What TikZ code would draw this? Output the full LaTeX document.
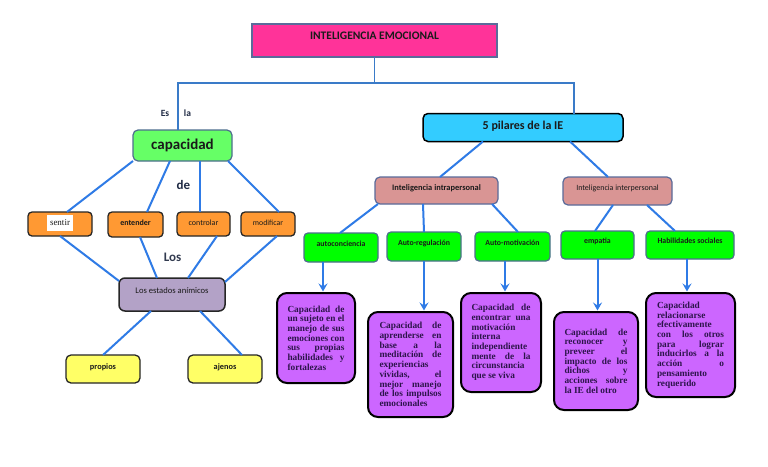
\documentclass[tikz,border=0pt]{standalone}
\usepackage{fontspec}
\setmainfont{Carlito}
\newfontfamily\serifbox{Liberation Serif}
\newfontfamily\timesfont{Liberation Serif}
\usetikzlibrary{arrows.meta}
\definecolor{busblue}{HTML}{3A7BC8}
\definecolor{linkblue}{HTML}{2F7BE6}
\definecolor{titlepink}{HTML}{FF3399}
\definecolor{titleborder}{HTML}{5A6B9A}
\definecolor{capgreen}{HTML}{66FF66}
\definecolor{grayblue}{HTML}{4E6E8E}
\definecolor{boxorange}{HTML}{FF9933}
\definecolor{darkline}{HTML}{262626}
\definecolor{lilac}{HTML}{B3A2C7}
\definecolor{boxyellow}{HTML}{FFFF66}
\definecolor{boxcyan}{HTML}{33CCFF}
\definecolor{rosebrown}{HTML}{D99594}
\definecolor{puregreen}{HTML}{00FF00}
\definecolor{violet}{HTML}{CC66FF}
\definecolor{violettext}{HTML}{2D144B}
\definecolor{labeltext}{HTML}{1F2A44}
\definecolor{textdark}{HTML}{1A1A1A}
\newcommand\J[1]{\makebox[\linewidth][s]{#1}}
\tikzset{
  box/.style={draw, inner sep=0pt, outer sep=0pt, text=textdark},
  bus/.style={draw=busblue, line width=1.3pt},
  link/.style={draw=linkblue, line width=2pt},
  arrowlink/.style={draw=linkblue, line width=2pt, -{Stealth[length=8pt,width=9pt,inset=3pt]}, shorten >=1.5pt},
  orangebox/.style={box, draw=darkline, line width=1.3pt, fill=boxorange, rounded corners=4pt, text height=6pt, text depth=4pt},
  greenbox/.style={box, draw=grayblue, line width=1.2pt, fill=puregreen, rounded corners=4pt, font=\bfseries\fontsize{7.8}{9}\selectfont, text height=6pt, text depth=8.5pt},
  purplebox/.style={box, draw=black, line width=2pt, fill=violet, rounded corners=10pt, text=violettext, font=\serifbox\bfseries\fontsize{9.3}{9.7}\selectfont},
  yellowbox/.style={box, draw=darkline, line width=1.3pt, fill=boxyellow, rounded corners=5pt, font=\bfseries\fontsize{8.3}{9}\selectfont, text height=6pt, text depth=6pt},
  wordlabel/.style={text=labeltext, font=\bfseries, inner sep=0pt}
}
\begin{document}
\begin{tikzpicture}[x=1pt,y=-1pt]
\fill[white] (0,0) rectangle (768,466);
\useasboundingbox (0,0) rectangle (768,466);

% main nodes
\node[box, draw=titleborder, line width=1.2pt, fill=titlepink, minimum width=245pt, minimum height=33pt,
      font=\bfseries\fontsize{11.5}{13}\selectfont, text height=7.4pt, text depth=9pt] (title) at (374.5,40.5) {INTELIGENCIA EMOCIONAL};
\coordinate (j) at (374.5,83);

\node[box, draw=grayblue, line width=1.2pt, fill=capgreen, rounded corners=5pt, minimum width=99pt, minimum height=31pt,
      font=\bfseries\fontsize{15}{17}\selectfont] (cap) at (182.5,145.5) {capacidad};

\node[box, draw=black, line width=1.5pt, fill=boxcyan, rounded corners=5pt, minimum width=200pt, minimum height=28pt,
      font=\bfseries\fontsize{12}{14}\selectfont, text height=8pt, text depth=5pt] (pil) at (523,127.5) {5 pilares de la IE};

% connectors top
\draw[bus] (title.south) -- (j);
\draw[bus] ([xshift=-4.5pt]cap.north) |- (j) -| ([xshift=51pt]pil.north);

% word labels
\node[wordlabel, font=\bfseries\fontsize{9.5}{11}\selectfont] (es) at (165,113) {Es};
\node[wordlabel, font=\bfseries\fontsize{9.5}{11}\selectfont] (la) at (187.5,113) {la};
\node[wordlabel, font=\bfseries\fontsize{13}{15}\selectfont] (de) at (183.5,185) {de};
\node[wordlabel, text=labeltext!80!gray, font=\bfseries\fontsize{13}{15}\selectfont] (los) at (172.5,257) {Los};

% orange boxes
\node[orangebox, minimum width=64pt, minimum height=24pt] (sen) at (60,224)
  {\colorbox{white}{\timesfont\fontsize{9}{10}\selectfont\strut sentir}};
\node[orangebox, minimum width=55pt, minimum height=25pt, font=\bfseries\fontsize{8}{9}\selectfont] (ent) at (135.5,224.5) {entender};
\node[orangebox, minimum width=53pt, minimum height=24pt, font=\fontsize{8}{9}\selectfont] (con) at (203.5,224) {controlar};
\node[orangebox, minimum width=54pt, minimum height=24pt, font=\fontsize{7.8}{9}\selectfont] (mod) at (268,224) {modificar};

\node[box, draw=darkline, line width=1.5pt, fill=lilac, rounded corners=6pt, minimum width=106pt, minimum height=33pt,
      font=\fontsize{8.6}{10}\selectfont, text height=6pt, text depth=9pt] (est) at (172,294.5) {Los estados anímicos};

\node[yellowbox, minimum width=74pt, minimum height=28pt] (pro) at (103,369) {propios};
\node[yellowbox, minimum width=74pt, minimum height=28pt] (aje) at (225,369) {ajenos};

% capacidad connectors
\draw[link] (cap.south west) -- ([xshift=7pt]sen.north);
\draw[link] ([xshift=-12.5pt]cap.south) -- ([xshift=11.5pt]ent.north);
\draw[link] ([xshift=17.5pt]cap.south) -- ([xshift=-3.5pt]con.north);
\draw[link] ([xshift=-4pt]cap.south east) -- ([xshift=11pt]mod.north);
\draw[link] (sen.south) -- ([yshift=-3pt]est.north west);
\draw[link] ([xshift=4.5pt]ent.south) -- ([xshift=-15pt]est.north);
\draw[link] ([xshift=13.5pt]con.south) -- ([xshift=16pt]est.north);
\draw[link] ([xshift=9pt]mod.south) -- ([yshift=-4pt]est.north east);
\draw[link] ([xshift=-21pt]est.south) -- (pro.north);
\draw[link] ([xshift=28pt]est.south) -- ([xshift=17pt]aje.north);

% pilares branch
\node[box, draw=titleborder, line width=1.2pt, fill=rosebrown, rounded corners=5pt, minimum width=123pt, minimum height=27pt,
      font=\bfseries\fontsize{8.4}{10}\selectfont, text height=6pt, text depth=7pt] (intra) at (436.5,190.5) {Inteligencia intrapersonal};
\node[box, draw=titleborder, line width=1.2pt, fill=rosebrown, rounded corners=5pt, minimum width=109pt, minimum height=28pt,
      font=\fontsize{8}{10}\selectfont, text height=6pt, text depth=8pt] (inter) at (617.5,191) {Inteligencia interpersonal};

\draw[link] ([xshift=-40pt]pil.south) -- ([xshift=3.5pt]intra.north);
\draw[link] ([xshift=47pt]pil.south) -- ([xshift=-9.5pt]inter.north);

\node[greenbox, minimum width=74pt, minimum height=29pt] (auto) at (341,247.5) {autoconciencia};
\node[greenbox, minimum width=74pt, minimum height=29pt] (reg) at (424,246.5) {Auto-regulación};
\node[greenbox, minimum width=75pt, minimum height=29pt] (mot) at (512.5,246.5) {Auto-motivación};
\node[greenbox, minimum width=73pt, minimum height=28pt] (emp) at (597.5,245) {empatia};
\node[greenbox, minimum width=88pt, minimum height=28pt] (hab) at (690,245) {Habilidades sociales};

\draw[link] ([xshift=3pt]intra.south west) -- ([xshift=-1pt]auto.north);
\draw[link] ([xshift=-13.5pt]intra.south) -- (reg.north);
\draw[link] ([xshift=55.5pt]intra.south) -- ([xshift=5.5pt]mot.north);
\draw[link] ([xshift=-4.5pt]inter.south) -- ([xshift=-2.5pt]emp.north);
\draw[link] ([xshift=29.5pt]inter.south) -- ([xshift=-15pt]hab.north);

% purple boxes
\node[purplebox, minimum width=78pt, minimum height=90pt] (p1) at (316,338) {\parbox{57pt}{%
\J{Capacidad de}\\ \J{un sujeto en el}\\ \J{manejo de sus}\\ \J{emociones con}\\ \J{sus propias}\\ \J{habilidades y}\\ fortalezas}};
\node[purplebox, minimum width=85pt, minimum height=105pt] (p2) at (410.5,364.5) {\parbox{62pt}{%
\J{Capacidad de}\\ \J{aprenderse en}\\ \J{base a la}\\ \J{meditación de}\\ experiencias\\ \J{vividas, el}\\ \J{mejor manejo}\\ \J{de los impulsos}\\ emocionales}};
\node[purplebox, minimum width=80pt, minimum height=99pt] (p3) at (501,342.5) {\parbox{59pt}{%
\J{Capacidad de}\\ \J{encontrar una}\\ motivación\\ interna\\ independiente\\ \J{mente de la}\\ circunstancia\\ que se viva}};
\node[purplebox, minimum width=84pt, minimum height=98pt] (p4) at (596,361) {\parbox{63pt}{%
\J{Capacidad de}\\ \J{reconocer y}\\ \J{preveer el}\\ \J{impacto de los}\\ \J{dichos y}\\ \J{acciones sobre}\\ la IE del otro}};
\node[purplebox, minimum width=89pt, minimum height=104pt] (p5) at (690.5,345) {\parbox{67pt}{%
Capacidad\\ relacionarse\\ efectivamente\\ \J{con los otros}\\ \J{para lograr}\\ \J{inducirlos a la}\\ \J{acción o}\\ pensamiento\\ requerido}};

% arrows
\draw[arrowlink] ([xshift=-18pt]auto.south) -- ([xshift=-18pt]auto.south |- p1.north);
\draw[arrowlink] (reg.south) -- (reg.south |- p2.north);
\draw[arrowlink] ([xshift=-7.5pt]mot.south) -- ([xshift=-7.5pt]mot.south |- p3.north);
\draw[arrowlink] (emp.south) -- (emp.south |- p4.north);
\draw[arrowlink] ([xshift=-3pt]hab.south) -- ([xshift=-3pt]hab.south |- p5.north);
\end{tikzpicture}
\end{document}
